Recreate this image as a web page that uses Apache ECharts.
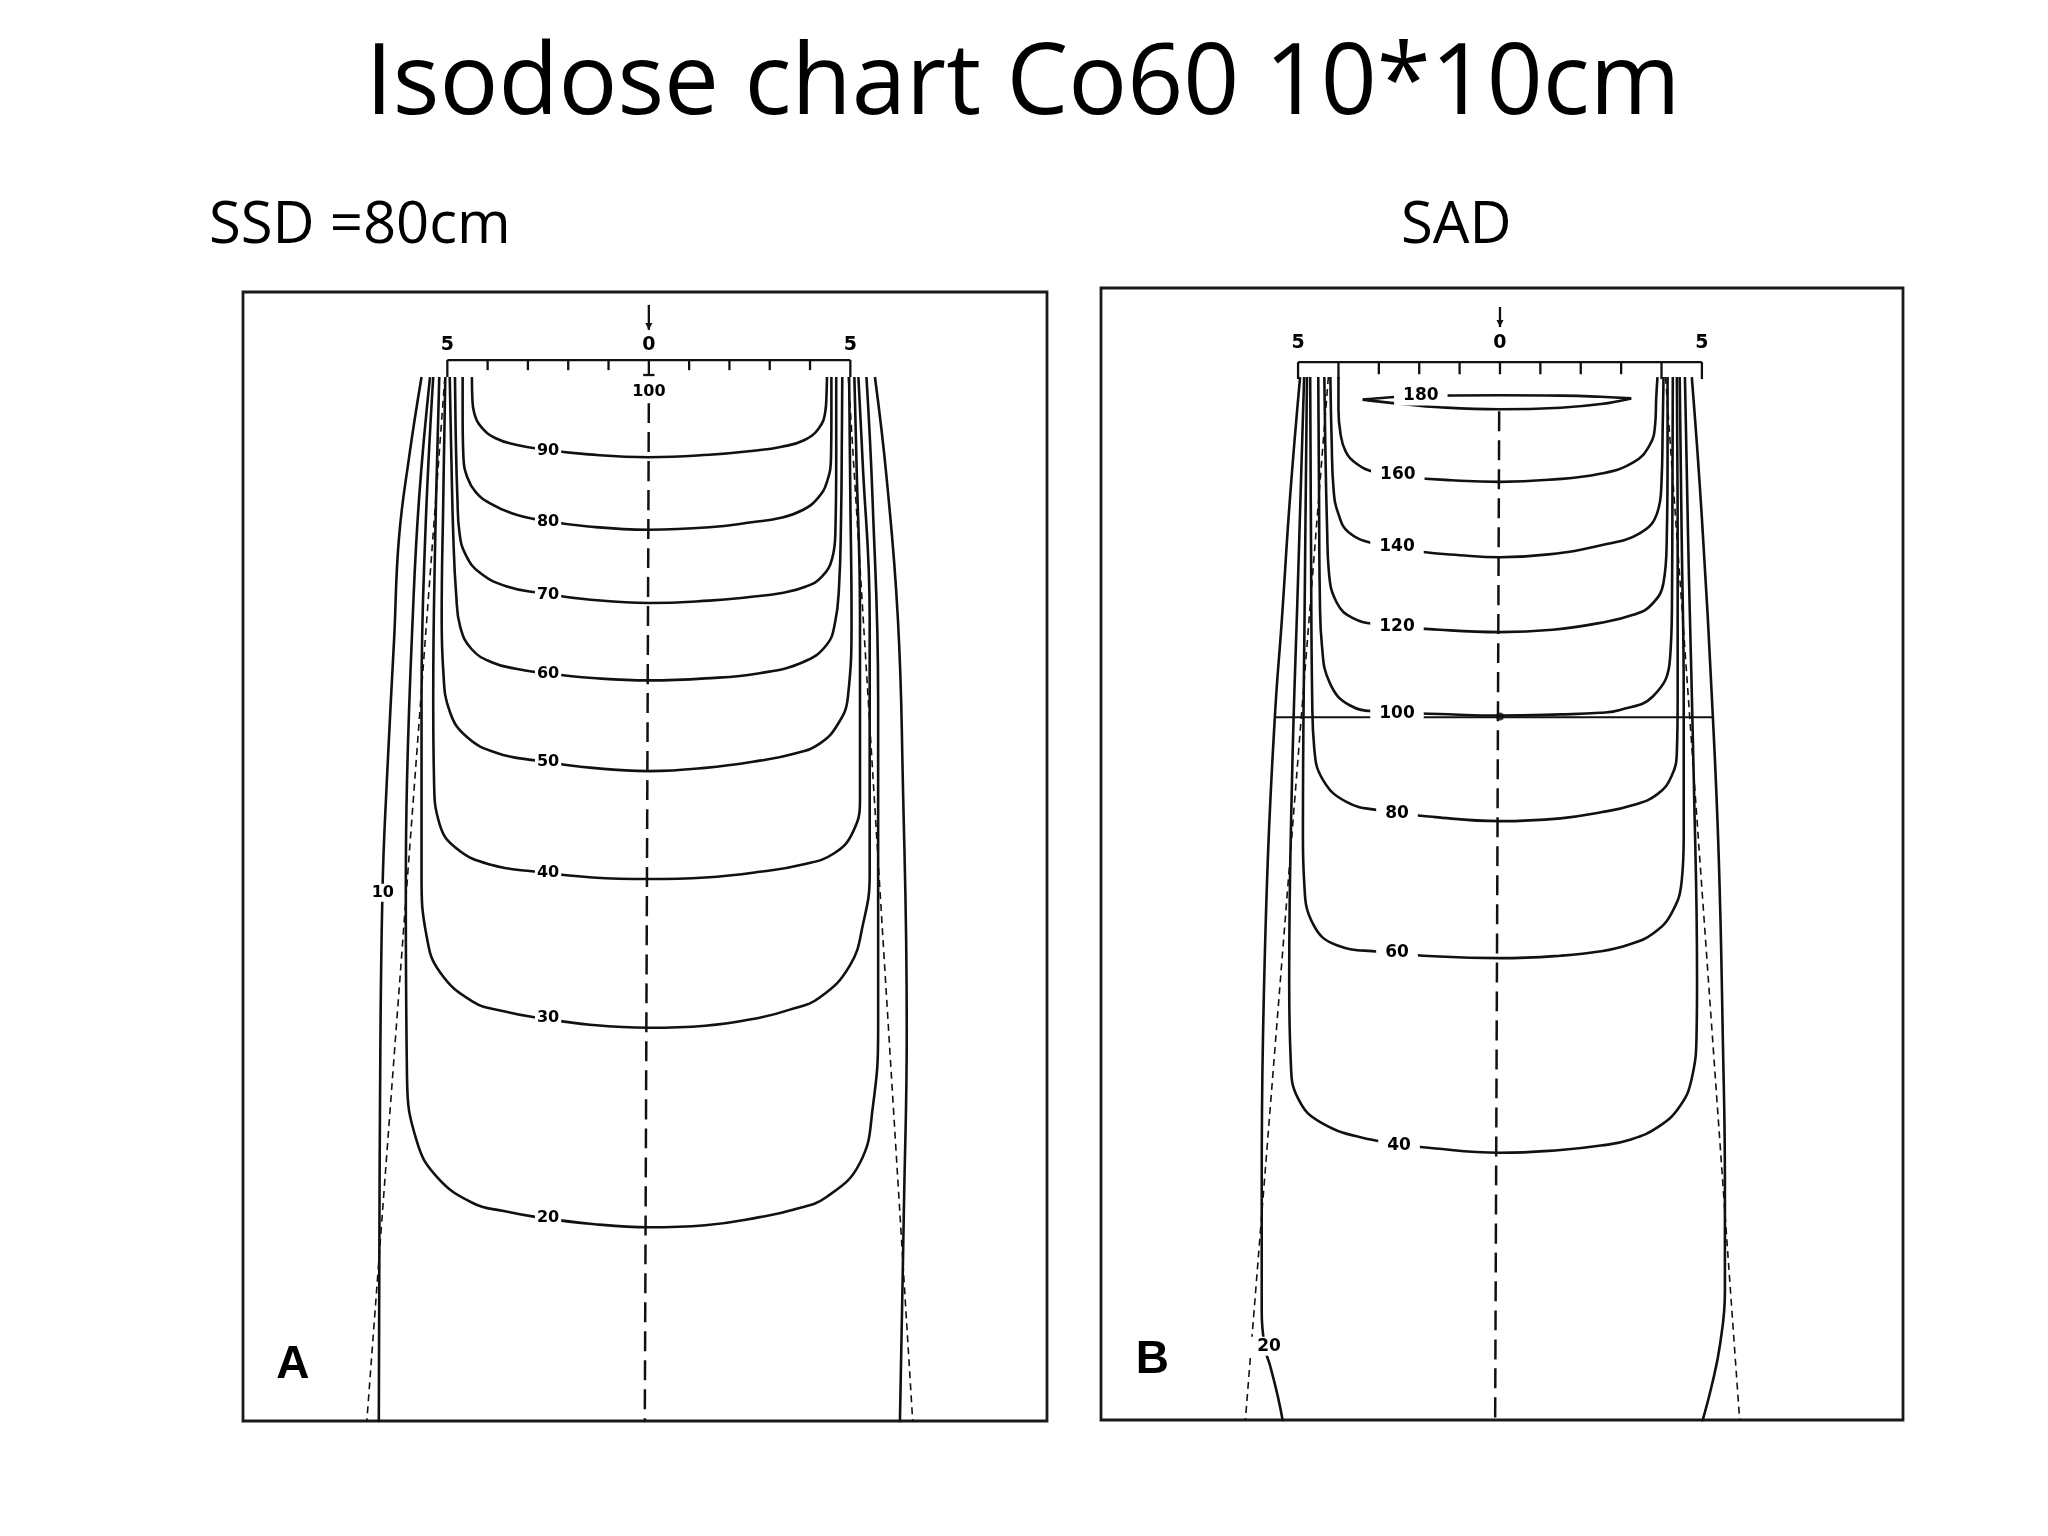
<!DOCTYPE html>
<html>
<head>
<meta charset="utf-8">
<script src="https://cdn.jsdelivr.net/npm/echarts@6/dist/echarts.min.js"></script>
<style>
html,body{margin:0;padding:0;background:#fff;}
#chart{width:2048px;height:1536px;}
</style>
</head>
<body>
<div id="chart"></div>
<script>
// ---------------- texts ----------------
const titleText = 'Isodose chart Co60 10*10cm';
const subtitleA = 'SSD =80cm';
const subtitleB = 'SAD';
const panelLetters = ['A', 'B'];

// ---------------- ruler (cm) ----------------
const rulerTicks = [-5, -4, -3, -2, -1, 0, 1, 2, 3, 4, 5];
const rulerLongA = [-5, 5];
const rulerLongB = [-5, -4, 4, 5];
const rulerLabelText = ['5', '0', '5'];
const rulerLabelAt = [-5, 0, 5];

// ---------------- panel A (SSD) isodose curves: [x cm, depth cm] ----------------
const A90 = [[-4.39,0],[-4.38,0.5],[-4.33,0.9],[-4.15,1.25],[-3.8,1.52],[-3.3,1.68],[-2.6,1.8],[-1.5,1.92],[0,1.99],[1.5,1.93],[2.6,1.83],[3.3,1.73],[3.85,1.57],[4.22,1.27],[4.38,0.85],[4.41,0.4],[4.42,0]];
const A80 = [[-4.62,0],[-4.62,1.0],[-4.6,2.0],[-4.5,2.5],[-4.3,2.85],[-3.95,3.13],[-3.4,3.38],[-2.7,3.55],[-1.5,3.71],[0,3.79],[1.5,3.73],[2.6,3.6],[3.25,3.5],[3.82,3.3],[4.2,3.0],[4.42,2.6],[4.52,2.0],[4.53,1.0],[4.53,0]];
const A70 = [[-4.81,0],[-4.79,1.5],[-4.75,3.0],[-4.7,3.85],[-4.55,4.4],[-4.19,4.86],[-3.52,5.2],[-2.7,5.36],[-1.5,5.52],[0,5.61],[1.5,5.55],[2.5,5.46],[3.3,5.36],[3.9,5.2],[4.3,4.95],[4.55,4.5],[4.63,3.8],[4.65,2.0],[4.65,0]];
const A60 = [[-4.94,0],[-4.9,2.0],[-4.85,4.0],[-4.78,5.4],[-4.68,6.2],[-4.4,6.75],[-3.9,7.08],[-3.3,7.24],[-2.6,7.35],[-1.4,7.47],[0,7.53],[1.4,7.48],[2.75,7.35],[3.82,7.08],[4.41,6.65],[4.62,6.1],[4.72,5.2],[4.77,3.5],[4.79,1.5],[4.8,0]];
const A50 = [[-5.05,0],[-5.1,3.0],[-5.14,6.0],[-5.1,7.3],[-4.94,8.3],[-4.52,8.93],[-3.77,9.33],[-2.78,9.52],[-1.4,9.7],[0,9.78],[1.4,9.7],[2.75,9.52],[3.6,9.35],[4.24,9.1],[4.7,8.6],[4.94,7.94],[5.03,6.0],[5.0,3.0],[4.97,0]];
const A40 = [[-5.2,0],[-5.3,4.0],[-5.35,8.0],[-5.33,10.0],[-5.19,11.1],[-4.77,11.7],[-3.94,12.1],[-2.78,12.28],[-1.4,12.42],[0,12.46],[1.4,12.42],[2.75,12.28],[3.82,12.1],[4.6,11.82],[5.06,11.3],[5.24,10.5],[5.24,6.0],[5.15,2.0],[5.1,0]];
const A30 = [[-5.35,0],[-5.55,4.0],[-5.64,8.0],[-5.64,12.36],[-5.51,13.9],[-5.19,14.76],[-4.37,15.5],[-3.6,15.74],[-2.78,15.9],[-1.4,16.08],[0,16.15],[1.4,16.1],[2.75,15.9],[3.5,15.7],[4.24,15.4],[4.99,14.6],[5.31,13.6],[5.48,12.36],[5.48,6.0],[5.3,2.0],[5.2,0]];
const A20 = [[-5.43,0],[-5.7,3.0],[-5.86,6.0],[-6.0,10.0],[-6.03,12.8],[-6.0,17.4],[-5.76,18.96],[-5.26,19.85],[-4.37,20.5],[-3.6,20.7],[-2.78,20.85],[-1.4,21.02],[0,21.1],[1.4,21.05],[2.75,20.85],[3.6,20.66],[4.41,20.35],[5.24,19.5],[5.56,18.1],[5.69,16.15],[5.69,8.0],[5.55,3.0],[5.4,0]];
const A10L = [[-5.64,0],[-5.95,2.0],[-6.2,4.0],[-6.32,6.5],[-6.5,10.0],[-6.61,12.8],[-6.67,18.0],[-6.7,25.95]];
const A10R = [[5.61,0],[5.9,2.5],[6.18,6.0],[6.3,9.9],[6.4,16.2],[6.33,20.6],[6.23,25.95]];
const AedgeL = [[-5.06,0],[-7.0,25.95]];
const AedgeR = [[4.95,0],[6.55,25.95]];
const Acenter = [[0,0.65],[-0.1,25.95]];
const labelsA = [['90',-2.5,1.84],['80',-2.5,3.6],['70',-2.5,5.4],['60',-2.5,7.36],['50',-2.5,9.55],['40',-2.5,12.3],['30',-2.5,15.9],['20',-2.5,20.88],['10',-6.6,12.8],['100',0,0.37]];

// ---------------- panel B (SAD) isodose curves ----------------
const B180top = [[-3.4,0.56],[-2.5,0.49],[-1.5,0.46],[0,0.45],[1.5,0.46],[2.5,0.49],[3.25,0.53]];
const B180bot = [[-3.4,0.56],[-2.5,0.66],[-1.5,0.75],[0,0.8],[1.5,0.76],[2.5,0.67],[3.25,0.53]];
const B160 = [[-4.0,0],[-4.0,0.8],[-3.95,1.4],[-3.82,1.85],[-3.55,2.15],[-3.1,2.36],[-2.3,2.48],[-1.2,2.56],[0,2.6],[1.2,2.55],[2.48,2.4],[3.3,2.12],[3.7,1.7],[3.84,1.2],[3.87,0.5],[3.9,0]];
const B140 = [[-4.2,0],[-4.17,1.5],[-4.12,2.8],[-4.0,3.4],[-3.75,3.85],[-3.1,4.14],[-2.0,4.33],[-1.0,4.42],[0,4.47],[1.2,4.4],[2.48,4.18],[3.47,3.87],[3.9,3.35],[4.0,2.6],[4.03,1.2],[4.05,0]];
const B120 = [[-4.35,0],[-4.32,2.0],[-4.28,3.8],[-4.24,4.8],[-4.04,5.6],[-3.64,5.98],[-3.0,6.14],[-1.5,6.27],[0,6.33],[1.3,6.27],[2.48,6.1],[3.3,5.9],[3.75,5.65],[4.05,5.1],[4.13,4.0],[4.15,2.0],[4.15,0]];
const B100 = [[-4.5,0],[-4.48,3.0],[-4.46,5.5],[-4.41,6.65],[-4.21,7.6],[-3.71,8.15],[-3.0,8.3],[-1.5,8.36],[0,8.4],[1.5,8.37],[2.48,8.33],[2.97,8.26],[3.79,7.92],[4.21,7.0],[4.26,5.5],[4.27,3.0],[4.28,0]];
const B80 = [[-4.7,0],[-4.68,4.0],[-4.65,8.0],[-4.6,9.2],[-4.38,10.0],[-3.79,10.55],[-3.0,10.75],[-1.6,10.92],[0,11.02],[1.5,10.95],[2.5,10.8],[3.3,10.62],[3.9,10.35],[4.25,9.9],[4.38,9.3],[4.4,8.0],[4.4,4.0],[4.38,0]];
const B60 = [[-4.78,0],[-4.83,5.0],[-4.88,11.4],[-4.85,12.5],[-4.63,13.57],[-4.04,14.1],[-3.0,14.26],[-1.5,14.38],[0,14.42],[1.5,14.36],[2.5,14.25],[3.2,14.08],[3.8,13.8],[4.25,13.3],[4.5,12.5],[4.55,11.4],[4.55,8.0],[4.5,4.0],[4.45,0]];
const B40 = [[-4.85,0],[-5.0,5.0],[-5.15,10.0],[-5.22,15.0],[-5.18,17.0],[-5.0,17.9],[-4.43,18.5],[-3.2,18.92],[-1.5,19.15],[0,19.25],[1.5,19.18],[2.5,19.07],[3.2,18.93],[3.9,18.62],[4.45,18.1],[4.75,17.4],[4.87,16.2],[4.88,15.0],[4.8,10.0],[4.68,5.0],[4.58,0]];
const B20L = [[-4.95,0],[-5.2,3.0],[-5.4,6.0],[-5.57,8.35],[-5.75,12.0],[-5.87,16.45],[-5.9,20.0],[-5.9,23.2],[-5.82,24.1],[-5.69,24.54],[-5.5,25.3],[-5.37,25.95]];
const B20R = [[4.75,0],[5.0,3.5],[5.27,8.4],[5.42,12.0],[5.52,16.5],[5.57,20.0],[5.57,22.7],[5.45,24.0],[5.25,25.0],[5.0,25.95]];
const BedgeL = [[-4.25,0],[-6.31,25.95]];
const BedgeR = [[4.1,0],[5.94,25.95]];
const Bcenter = [[-0.02,0.85],[-0.12,25.95]];
const Bnorm = [[-5.57,8.44],[5.27,8.44]];
const BnormPoint = [[0,8.42]];
const labelsB = [['180',-1.96,0.47],['160',-2.53,2.42],['140',-2.55,4.2],['120',-2.55,6.18],['100',-2.55,8.34],['80',-2.55,10.82],['60',-2.55,14.27],['40',-2.5,19.06],['20',-5.72,24.05]];

// ---------------- styling / layout ----------------
const INK = '#111111';
const RA = {bar:-0.42, tick:-0.17, long:0.0, label:-0.8, arrowTop:-1.79, arrowTip:-1.17, crossY:-0.05};
const RB = {bar:-0.37, tick:-0.07, long:0.05, label:-0.84, arrowTop:-1.74, arrowTip:-1.24};

function curve(data, gi, w, dash) {
  return {
    type: 'line', xAxisIndex: gi, yAxisIndex: gi, data: data,
    smooth: 0.45, symbol: 'none', showSymbol: false, silent: true, animation: false,
    lineStyle: {color: INK, width: w || 2.6, type: dash || 'solid'}, z: 3
  };
}

function segSeries(gi, segs, width, arrowIdx) {
  return {
    type: 'custom', xAxisIndex: gi, yAxisIndex: gi, data: segs, silent: true, animation: false, z: 4,
    encode: {x: [0, 2], y: [1, 3]},
    renderItem: function (params, api) {
      const a = api.coord([api.value(0), api.value(1)]);
      const b = api.coord([api.value(2), api.value(3)]);
      const children = [{
        type: 'line',
        shape: {x1: a[0], y1: a[1], x2: b[0], y2: b[1]},
        style: {stroke: INK, lineWidth: width}
      }];
      if (arrowIdx !== undefined && params.dataIndex === arrowIdx) {
        children.push({
          type: 'polygon',
          shape: {points: [[b[0] - 3.5, b[1] - 7], [b[0] + 3.5, b[1] - 7], [b[0], b[1]]]},
          style: {fill: INK}
        });
      }
      return {type: 'group', children: children};
    }
  };
}

function rulerSegs(R, longs, cross) {
  const segs = [];
  segs.push([rulerTicks[0], R.bar, rulerTicks[rulerTicks.length - 1], R.bar]);
  rulerTicks.forEach(function (t) {
    const isLong = longs.indexOf(t) >= 0;
    let end = isLong ? R.long : R.tick;
    if (cross && t === 0) end = R.crossY;
    segs.push([t, R.bar, t, end]);
  });
  if (cross) segs.push([-0.14, R.crossY, 0.14, R.crossY]);
  return segs;
}

function textSeries(gi, items, font) {
  return {
    type: 'scatter', xAxisIndex: gi, yAxisIndex: gi, silent: true, animation: false, z: 10,
    symbolSize: 1, itemStyle: {color: 'rgba(255,255,255,0)'},
    data: items.map(function (l) { return {name: l[0], value: [l[1], l[2]]}; }),
    label: Object.assign({show: true, position: 'inside', formatter: '{b}', color: '#000', textBorderWidth: 0, opacity: 1}, font)
  };
}

const aSegs = rulerSegs(RA, rulerLongA, true);
aSegs.push([0, RA.arrowTop, 0, RA.arrowTip]);
const bSegs = rulerSegs(RB, rulerLongB, false);
bSegs.push([0, RB.arrowTop, 0, RB.arrowTip]);

const rulerLabA = rulerLabelText.map(function (t, i) { return [t, rulerLabelAt[i], RA.label]; });
const rulerLabB = rulerLabelText.map(function (t, i) { return [t, rulerLabelAt[i], RB.label]; });

const series = [];
[A90, A80, A70, A60, A50, A40, A30, A20, A10L, A10R].forEach(function (c) { series.push(curve(c, 0)); });
series.push(curve(AedgeL, 0, 1.6, [7, 5]));
series.push(curve(AedgeR, 0, 1.6, [7, 5]));
series.push(curve(Acenter, 0, 2.5, [20, 9]));
series.push(segSeries(0, aSegs, 2.3, aSegs.length - 1));
series.push(textSeries(0, labelsA, {fontFamily: 'DejaVu Sans', fontWeight: 'bold', fontSize: 16, backgroundColor: '#fff', padding: [1, 2]}));
series.push(textSeries(0, rulerLabA, {fontFamily: 'DejaVu Sans', fontWeight: 'bold', fontSize: 19}));
series.push(textSeries(0, [[panelLetters[0], -8.83, 24.54]], {fontFamily: 'Liberation Sans', fontWeight: 'bold', fontSize: 46}));

[B180top, B180bot, B160, B140, B120, B100, B80, B60, B40, B20L, B20R].forEach(function (c) { series.push(curve(c, 1)); });
series.push(curve(BedgeL, 1, 1.6, [7, 5]));
series.push(curve(BedgeR, 1, 1.6, [7, 5]));
series.push(curve(Bcenter, 1, 2.5, [20, 9]));
series.push(curve(Bnorm, 1, 1.9));
series.push({type: 'scatter', xAxisIndex: 1, yAxisIndex: 1, data: BnormPoint, symbolSize: 8, itemStyle: {color: INK}, silent: true, z: 5});
series.push(segSeries(1, bSegs, 2.3, bSegs.length - 1));
series.push(textSeries(1, labelsB, {fontFamily: 'DejaVu Sans', fontWeight: 'bold', fontSize: 17, backgroundColor: '#fff', padding: [1, 9]}));
series.push(textSeries(1, rulerLabB, {fontFamily: 'DejaVu Sans', fontWeight: 'bold', fontSize: 19}));
series.push(textSeries(1, [[panelLetters[1], -8.61, 24.4]], {fontFamily: 'Liberation Sans', fontWeight: 'bold', fontSize: 46}));

const option = {
  animation: false,
  backgroundColor: '#ffffff',
  grid: [
    {left: 243, top: 292, width: 804, height: 1129, show: true, borderColor: '#1a1a1a', borderWidth: 2.8, backgroundColor: '#fff'},
    {left: 1101, top: 288, width: 802, height: 1132, show: true, borderColor: '#1a1a1a', borderWidth: 2.8, backgroundColor: '#fff'}
  ],
  xAxis: [
    {gridIndex: 0, type: 'value', min: -10.07, max: 9.88, show: false},
    {gridIndex: 1, type: 'value', min: -9.88, max: 9.98, show: false}
  ],
  yAxis: [
    {gridIndex: 0, type: 'value', inverse: true, min: -2.11, max: 25.91, show: false},
    {gridIndex: 1, type: 'value', inverse: true, min: -2.21, max: 25.88, show: false}
  ],
  graphic: [
    {type: 'text', x: 1023, y: 86, style: {text: titleText, fontFamily: 'Open Sans', fontSize: 98, fill: '#000', align: 'center', verticalAlign: 'middle'}},
    {type: 'text', x: 209, y: 226, style: {text: subtitleA, fontFamily: 'Open Sans', fontSize: 58, fill: '#000', align: 'left', verticalAlign: 'middle'}},
    {type: 'text', x: 1401, y: 226, style: {text: subtitleB, fontFamily: 'Open Sans', fontSize: 58, fill: '#000', align: 'left', verticalAlign: 'middle'}}
  ],
  series: series
};

const chart = echarts.init(document.getElementById('chart'), null, {renderer: 'canvas'});
chart.setOption(option);
</script>
</body>
</html>
